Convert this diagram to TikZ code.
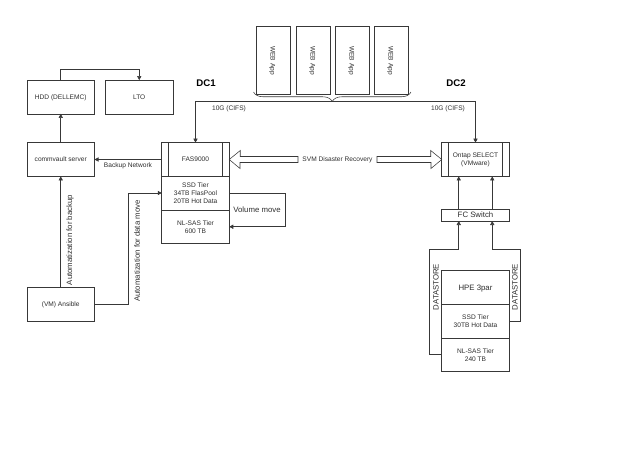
\documentclass[tikz,border=0pt]{standalone}
\usepackage{fontspec}
\setmainfont{Liberation Sans}
\usetikzlibrary{arrows.meta, decorations.pathreplacing}
\colorlet{linegray}{black!78}
\colorlet{textgray}{black!82}
\tikzset{
	box/.style={draw=linegray, fill=white, text=textgray, align=center, inner sep=1pt, outer sep=0pt, text depth=0pt, minimum width=67.5, minimum height=33.75, font=\fontsize{6.6}{8.2}\selectfont},
	link/.style={draw=linegray, -{Triangle[length=4pt, width=4.2pt]}},
	plain/.style={draw=linegray},
	biglabel/.style={text=textgray, font=\fontsize{7.8}{9.5}\selectfont, inner sep=0pt},
	smalllabel/.style={text=textgray, font=\fontsize{6.6}{8.2}\selectfont, inner sep=0pt, text depth=0pt},
}
\begin{document}
\begin{tikzpicture}[x=1pt, y=-1pt, line width=.55pt]
	\useasboundingbox (0, 0) rectangle (638, 451);

	\foreach \x/\n in {273/1, 313/2, 352/3, 391/4}
	\node[box, minimum width=67.5, minimum height=34, rotate=-90] (web\n) at (\x, 60.5) {WEB App};

	\node[box] (hdd) at (60.75, 97) {HDD (DELLEMC)};
	\node[box] (lto) at (139.25, 97) {LTO};
	\node[box] (commvault) at (60.75, 159.5) {commvault server};
	\node[box] (ansible) at (60.75, 304) {(VM) Ansible};

	\node[box] (fas) at (195.5, 159.5) {FAS9000};
	\node[box] (fasssd) at (195.5, 193) {SSD Tier\\34TB FlasPool\\20TB Hot Data};
	\node[box] (fasnl) at (195.5, 226.75) {NL-SAS Tier\\600 TB};

	\node[box] (ontap) at (475.5, 159.5) {Ontap SELECT\\(VMware)};
	\node[box, minimum height=12, font=\fontsize{7.8}{9.5}\selectfont] (fc) at (475.5, 215) {FC Switch};

	\node[box, font=\fontsize{7.8}{9.5}\selectfont] (hpe) at (475.5, 287.5) {HPE 3par};
	\node[box] (hpessd) at (475.5, 321) {SSD Tier\\30TB Hot Data};
	\node[box] (hpenl) at (475.5, 354.75) {NL-SAS Tier\\240 TB};

	\foreach \n in {fas, ontap} {
		\draw[plain] ([xshift=6.5]\n.north west) -- ([xshift=6.5]\n.south west);
		\draw[plain] ([xshift=-6.5]\n.north east) -- ([xshift=-6.5]\n.south east);
	}

	\node[font=\bfseries\fontsize{9.65}{11}\selectfont, inner sep=0pt] (dc1) at (206, 83) {DC1};
	\node[font=\bfseries\fontsize{9.65}{11}\selectfont, inner sep=0pt] (dc2) at (456, 83) {DC2};

	\coordinate (webtip) at (332.25, 101.5);
	\draw[plain, decorate, decoration={brace, mirror, amplitude=9.5pt}] (253.5, 92) -- (411, 92);
	\draw[link] (webtip) -| (fas.north);
	\draw[link] (webtip) -| (ontap.north);
	\node[smalllabel] (cifs1) at (229, 108.5) {10G (CIFS)};
	\node[smalllabel] (cifs2) at (448, 108.5) {10G (CIFS)};

	\draw[link] (hdd.north) -- ++(0, -11) -| (lto.north);
	\draw[link] (commvault.north) -- (hdd.south);
	\draw[link] (fas.west) -- (commvault.east);
	\node[smalllabel] (backup) at (128, 165) {Backup Network};

	\draw[link] (ansible.north) -- (commvault.south);
	\node[biglabel, rotate=90] (autobackup) at (70, 240) {Automatization for backup};
	\draw[link] (ansible.east) -| (128, 193) -- (fasssd.west);
	\node[biglabel, rotate=90] (automove) at (137, 251) {Automatization for data move};

	\draw[link] (fasssd.east) -- ++(56, 0) |- (fasnl.east);
	\node[biglabel] (volmove) at (257, 209.5) {Volume move};

	\draw[plain] (fas.east) -- ++(11, -9) -- ++(0, 6) -- (298, 156.5) -- (298, 162.5) -- (240, 162.5) -- ++(0, 6) -- cycle;
	\draw[plain] (ontap.west) -- ++(-11, -9) -- ++(0, 6) -- (377, 156.5) -- (377, 162.5) -- (431, 162.5) -- ++(0, 6) -- cycle;
	\node[smalllabel] (svm) at (337.5, 159) {SVM Disaster Recovery};

	\draw[link] ([xshift=-16.75]fc.north) -- ([xshift=-16.75]ontap.south);
	\draw[link] ([xshift=16.75]fc.north) -- ([xshift=16.75]ontap.south);

	\draw[link] (hpenl.west) -- ++(-12, 0) |- (458.75, 249) -- ([xshift=-16.75]fc.south);
	\draw[link] (hpessd.east) -- ++(11, 0) |- (492.25, 249) -- ([xshift=16.75]fc.south);
	\node[biglabel, rotate=90] (store1) at (436, 287) {DATASTORE};
	\node[biglabel, rotate=90] (store2) at (515, 287) {DATASTORE};
\end{tikzpicture}
\end{document}
